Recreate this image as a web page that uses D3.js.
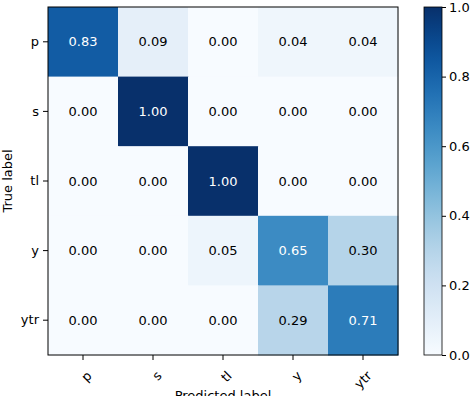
<!DOCTYPE html>
<html>
<head>
<meta charset="utf-8">
<script src="https://cdn.jsdelivr.net/npm/d3@7"></script>
<style>
  body { margin: 0; background: #fff; }
  svg text { font-family: "DejaVu Sans", sans-serif; }
</style>
</head>
<body>
<svg id="chart"></svg>
<script>
// confusion matrix data
const classes = ['p', 's', 'tl', 'y', 'ytr'];
const matrix = [
  [0.83, 0.09, 0.00, 0.04, 0.04],
  [0.00, 1.00, 0.00, 0.00, 0.00],
  [0.00, 0.00, 1.00, 0.00, 0.00],
  [0.00, 0.00, 0.05, 0.65, 0.30],
  [0.00, 0.00, 0.00, 0.29, 0.71]
];
const cbarTicks = [0.0, 0.2, 0.4, 0.6, 0.8, 1.0];

const w = 474, h = 396;
const plotL = 48, plotT = 7, plotR = 398, plotB = 355;
const fs = 13;

const svg = d3.select('#chart').attr('width', w).attr('height', h);

const x = d3.scaleBand().domain(classes).range([plotL, plotR]);
const y = d3.scaleBand().domain(classes).range([plotT, plotB]);
const color = d3.scaleSequential(d3.interpolateBlues).domain([0, 1]);

const cells = [];
matrix.forEach((row, i) => row.forEach((v, j) => cells.push({ r: classes[i], c: classes[j], v: v })));

svg.selectAll('rect.cell')
  .data(cells)
  .enter()
  .append('rect')
  .attr('class', 'cell')
  .attr('x', d => x(d.c))
  .attr('y', d => y(d.r))
  .attr('width', x.bandwidth() + 0.5)
  .attr('height', y.bandwidth() + 0.5)
  .attr('fill', d => color(d.v));

svg.selectAll('text.val')
  .data(cells)
  .enter()
  .append('text')
  .attr('class', 'val')
  .attr('x', d => x(d.c) + x.bandwidth() / 2)
  .attr('y', d => y(d.r) + y.bandwidth() / 2)
  .attr('text-anchor', 'middle')
  .attr('dominant-baseline', 'central')
  .attr('font-size', fs)
  .attr('fill', d => d.v > 0.5 ? '#fff' : '#000')
  .text(d => d.v.toFixed(2));

// frame
svg.append('rect')
  .attr('x', plotL).attr('y', plotT)
  .attr('width', plotR - plotL).attr('height', plotB - plotT)
  .attr('fill', 'none').attr('stroke', '#000').attr('stroke-width', 1);

// axes
const xAxis = svg.append('g')
  .attr('transform', 'translate(0,' + plotB + ')')
  .call(d3.axisBottom(x).tickSize(5).tickPadding(4));
xAxis.select('.domain').remove();
xAxis.selectAll('text')
  .attr('font-size', fs)
  .attr('text-anchor', 'end')
  .attr('dy', '0.35em')
  .attr('transform', 'translate(0,12) rotate(-45)');

const yAxis = svg.append('g')
  .attr('transform', 'translate(' + plotL + ',0)')
  .call(d3.axisLeft(y).tickSize(5).tickPadding(4));
yAxis.select('.domain').remove();
yAxis.selectAll('text').attr('font-size', fs);

svg.selectAll('.tick text').attr('fill', '#000').attr('font-family', '"DejaVu Sans", sans-serif');
svg.selectAll('.tick line').attr('stroke', '#000');

// axis labels
svg.append('text')
  .attr('transform', 'translate(12,' + ((plotT + plotB) / 2) + ') rotate(-90)')
  .attr('text-anchor', 'middle')
  .attr('font-size', fs)
  .text('True label');

svg.append('text')
  .attr('x', (plotL + plotR) / 2)
  .attr('y', 400)
  .attr('text-anchor', 'middle')
  .attr('font-size', fs)
  .text('Predicted label');

// colorbar
const cbX = 424, cbW = 18;
const defs = svg.append('defs');
const grad = defs.append('linearGradient')
  .attr('id', 'cbar')
  .attr('x1', 0).attr('y1', 1).attr('x2', 0).attr('y2', 0);
d3.range(0, 1.0001, 0.05).forEach(t => {
  grad.append('stop').attr('offset', t).attr('stop-color', color(t));
});
svg.append('rect')
  .attr('x', cbX).attr('y', plotT)
  .attr('width', cbW).attr('height', plotB - plotT)
  .attr('fill', 'url(#cbar)')
  .attr('stroke', '#000').attr('stroke-width', 0.8);

const cScale = d3.scaleLinear().domain([0, 1]).range([plotB, plotT]);
const cAxis = svg.append('g')
  .attr('transform', 'translate(' + (cbX + cbW) + ',0)')
  .call(d3.axisRight(cScale).tickValues(cbarTicks).tickFormat(d3.format('.1f')).tickSize(4).tickPadding(3));
cAxis.select('.domain').remove();
cAxis.selectAll('text').attr('font-size', fs).attr('fill', '#000').attr('font-family', '"DejaVu Sans", sans-serif');
cAxis.selectAll('line').attr('stroke', '#000');
</script>
</body>
</html>
